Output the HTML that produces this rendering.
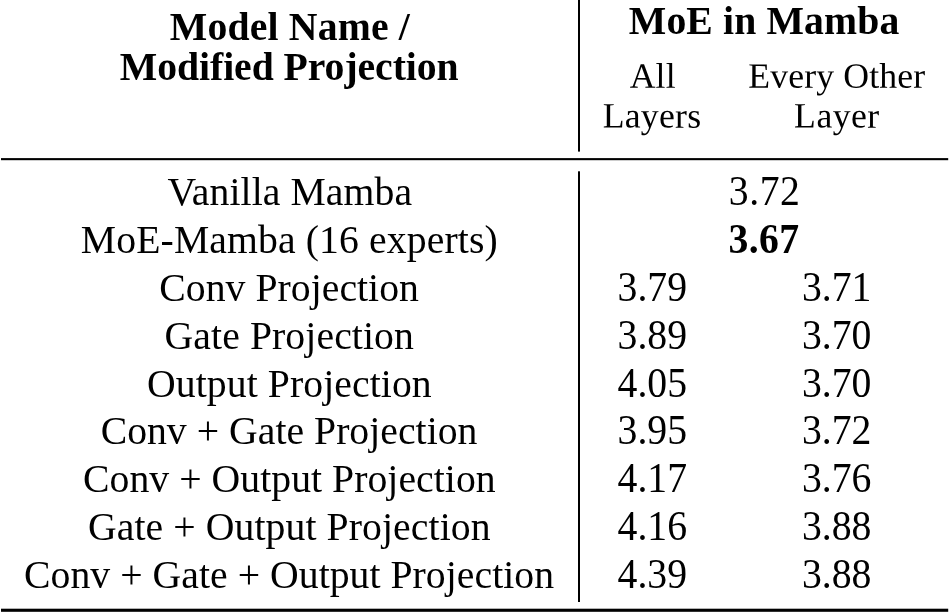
<!DOCTYPE html>
<html><head><meta charset="utf-8"><title>Table</title>
<style>
html,body{margin:0;padding:0;background:#fff;}
body{width:949px;height:613px;overflow:hidden;}
svg{display:block;}
text{font-family:"Liberation Serif",serif;font-size:39.7px;fill:#000;}
.b{font-weight:bold;}
.s{font-size:35.7px;}
</style></head><body>
<svg width="949" height="613" viewBox="0 0 949 613">
<rect x="0" y="0" width="949" height="613" fill="#fff"/>
<rect x="578" y="0" width="2" height="151.6" fill="#000"/>
<rect x="578" y="171.3" width="2" height="430.7" fill="#000"/>
<rect x="1" y="158.1" width="947.2" height="2.1" fill="#000"/>
<rect x="1" y="608.7" width="947.2" height="3.1" fill="#000"/>
<text x="169.81" y="40" class="b" textLength="240.09" transform="matrix(1 0 0 1.02 0 -0.800)">Model Name /</text>
<text x="119.81" y="80" class="b" textLength="338.88" transform="matrix(1 0 0 1.02 0 -1.600)">Modified Projection</text>
<text x="628.81" y="34" class="b" textLength="270.42" transform="matrix(1 0 0 1.02 0 -0.680)">MoE in Mamba</text>
<text x="629.71" y="87.7" class="s" textLength="45.86" transform="rotate(0.03 629.7 87.7)">All</text>
<text x="602.69" y="127.6" class="s" textLength="98.44" transform="rotate(0.03 602.7 127.6)">Layers</text>
<text x="748.15" y="87.7" class="s" textLength="177.07" transform="rotate(0.03 748.2 87.7)">Every Other</text>
<text x="794.11" y="127.6" class="s" textLength="85.13" transform="rotate(0.03 794.1 127.6)">Layer</text>
<text x="167.54" y="205" textLength="244.46">Vanilla Mamba</text>
<text x="80.81" y="253" textLength="416.91">MoE-Mamba (16 experts)</text>
<text x="159.35" y="301" textLength="259.52">Conv Projection</text>
<text x="164.55" y="349" textLength="249.35">Gate Projection</text>
<text x="147.08" y="397" textLength="284.57">Output Projection</text>
<text x="100.63" y="444" textLength="376.77">Conv + Gate Projection</text>
<text x="82.99" y="492" textLength="412.65">Conv + Output Projection</text>
<text x="87.99" y="540" textLength="402.57">Gate + Output Projection</text>
<text x="24.09" y="588" textLength="529.90">Conv + Gate + Output Projection</text>
<text x="728.87" y="205" textLength="71.05" transform="matrix(1 0 0 1.04 0 -8.200)">3.72</text>
<text x="728.48" y="253" class="b" textLength="70.59" transform="matrix(1 0 0 1.05 0 -12.650)">3.67</text>
<text x="617.60" y="301" transform="matrix(1 0 0 1.04 0 -12.040)">3.79</text>
<text x="801.90" y="301" transform="matrix(1 0 0 1.04 0 -12.040)">3.71</text>
<text x="617.60" y="349" transform="matrix(1 0 0 1.04 0 -13.960)">3.89</text>
<text x="801.90" y="349" transform="matrix(1 0 0 1.04 0 -13.960)">3.70</text>
<text x="617.60" y="397" transform="matrix(1 0 0 1.04 0 -15.880)">4.05</text>
<text x="801.90" y="397" transform="matrix(1 0 0 1.04 0 -15.880)">3.70</text>
<text x="617.60" y="444" transform="matrix(1 0 0 1.04 0 -17.760)">3.95</text>
<text x="801.90" y="444" transform="matrix(1 0 0 1.04 0 -17.760)">3.72</text>
<text x="617.60" y="492" transform="matrix(1 0 0 1.04 0 -19.680)">4.17</text>
<text x="801.90" y="492" transform="matrix(1 0 0 1.04 0 -19.680)">3.76</text>
<text x="617.60" y="540" transform="matrix(1 0 0 1.04 0 -21.600)">4.16</text>
<text x="801.90" y="540" transform="matrix(1 0 0 1.04 0 -21.600)">3.88</text>
<text x="617.60" y="588" transform="matrix(1 0 0 1.04 0 -23.520)">4.39</text>
<text x="801.90" y="588" transform="matrix(1 0 0 1.04 0 -23.520)">3.88</text>
</svg>
</body></html>
